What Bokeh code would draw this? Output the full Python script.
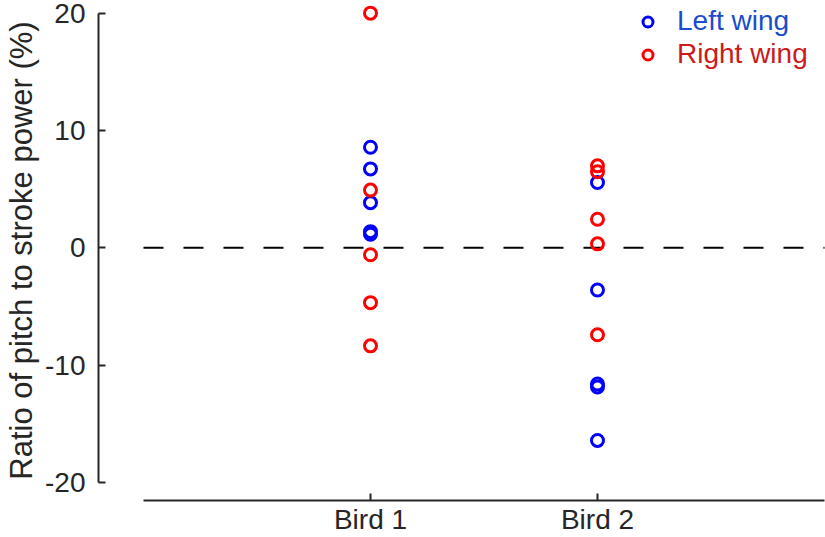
from bokeh.plotting import figure
from bokeh.models import Range1d, FixedTicker, Legend, LegendItem
from bokeh.embed import file_html
from bokeh.resources import INLINE

# ---- data ----
birds = ["Bird 1", "Bird 2"]
bird_pos = [1, 2]
bird1_left = [8.57, 6.73, 3.85, 1.38, 1.16]
bird1_right = [20.0, 4.92, -0.59, -4.67, -8.35]
bird2_left = [5.57, -3.59, -11.6, -11.85, -16.41]
bird2_right = [6.99, 6.48, 2.44, 0.34, -7.41]
y_ticks = [-20, -10, 0, 10, 20]
y_tick_labels = ["-20", "-10", "0", "10", "20"]
x_limits = [0, 3]
y_limits = [-20, 20]
zero_line = [0, 0]

FONT = "Liberation Sans"
AX = "#262626"

p = figure(width=825, height=537, output_backend="svg", toolbar_location=None,
           x_range=Range1d(-0.1982, 3.0044), y_range=Range1d(-21.528, 21.078),
           min_border_left=98, min_border_right=0, min_border_top=0, min_border_bottom=35)
p.outline_line_color = None
p.xgrid.visible = False
p.ygrid.visible = False
p.background_fill_color = "white"

# zero reference line
p.line(x=x_limits, y=zero_line, line_color="#000000", line_width=2, line_dash="20 20")

left_x = [bird_pos[0]] * len(bird1_left) + [bird_pos[1]] * len(bird2_left)
left_y = bird1_left + bird2_left
right_x = [bird_pos[0]] * len(bird1_right) + [bird_pos[1]] * len(bird2_right)
right_y = bird1_right + bird2_right

r_left = p.scatter(left_x, left_y, marker="circle", size=12, fill_color=None,
                   line_color="#0000ff", line_width=3)
r_right = p.scatter(right_x, right_y, marker="circle", size=12, fill_color=None,
                    line_color="#ff0000", line_width=3)

# axes
p.xaxis.ticker = FixedTicker(ticks=bird_pos)
p.xaxis.major_label_overrides = {k: v for k, v in zip(bird_pos, birds)}
p.xaxis.bounds = tuple(x_limits)
p.yaxis.ticker = FixedTicker(ticks=y_ticks)
p.yaxis.major_label_overrides = {k: v for k, v in zip(y_ticks, y_tick_labels)}
p.yaxis.bounds = tuple(y_limits)
p.yaxis.axis_label = "Ratio of pitch to stroke power (%)"

for ax in (p.xaxis[0], p.yaxis[0]):
    ax.axis_line_color = AX
    ax.axis_line_width = 2
    ax.major_tick_line_color = AX
    ax.major_tick_line_width = 2
    ax.major_tick_in = 7
    ax.major_tick_out = 0
    ax.minor_tick_line_color = None
    ax.major_label_text_font = FONT
    ax.major_label_text_font_size = "28px"
    ax.major_label_text_color = AX
    ax.axis_label_text_font = FONT
    ax.axis_label_text_font_size = "31px"
    ax.axis_label_text_font_style = "normal"
    ax.axis_label_text_color = AX

p.xaxis.major_label_standoff = 3
p.yaxis.major_label_standoff = 13
p.yaxis.axis_label_standoff = 3

# legends (separate so each label has its own colour)
def make_legend(label, renderer, color, y):
    lg = Legend(items=[LegendItem(label=label, renderers=[renderer])],
                location=(537, y), padding=0, margin=0, spacing=0,
                glyph_width=25, glyph_height=25, label_standoff=17,
                label_text_font=FONT, label_text_font_size="28px",
                label_text_color=color, background_fill_alpha=0,
                border_line_alpha=0, click_policy="none")
    p.add_layout(lg)

make_legend("Left wing", r_left, "#1a4dcc", 463)
make_legend("Right wing", r_right, "#cc1a1a", 430)

open("out.html", "w").write(file_html(p, INLINE))
